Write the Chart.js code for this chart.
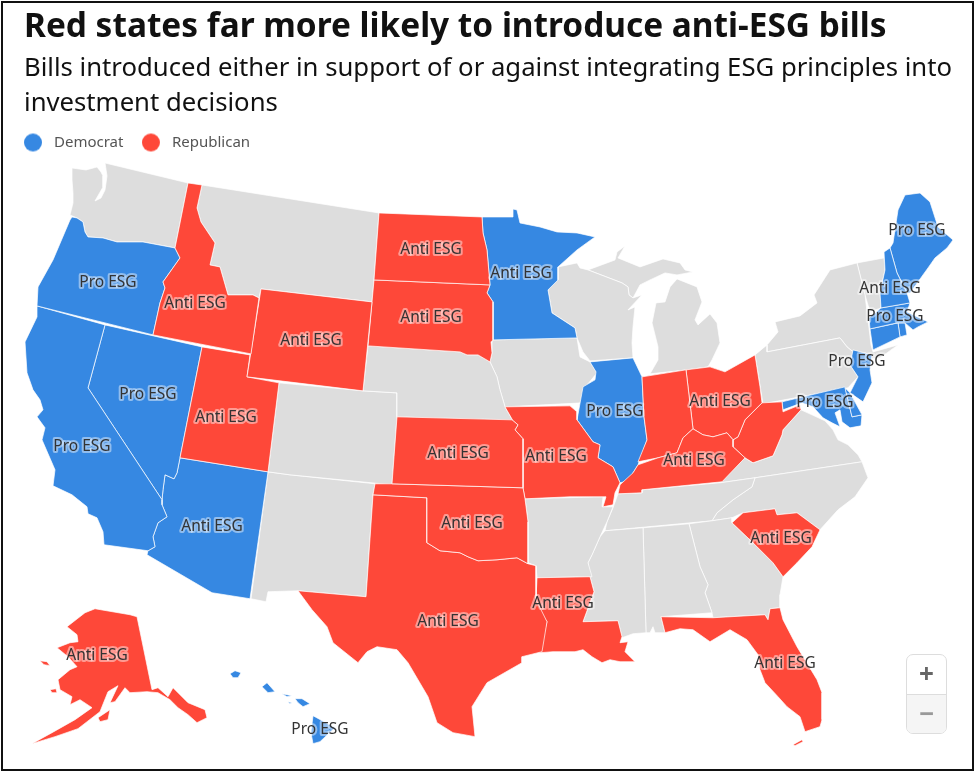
<!DOCTYPE html>
<html><head><meta charset="utf-8">
<style>
html,body{margin:0;padding:0;background:#fff;overflow:hidden}
#wrap{position:relative;width:975px;height:772px}
canvas{display:block}
#frame{position:absolute;left:1px;top:1px;width:969px;height:766px;border:2px solid #111;pointer-events:none}
#zoom{position:absolute;left:906px;top:654px;width:39px;height:78px;border:1px solid #ddd;border-radius:7px;overflow:hidden;font-family:"Noto Sans",sans-serif;background:#fff}
#zoom div{height:39px;line-height:37px;text-align:center;font-size:26px;font-weight:700;color:#666}
#zoom div+div{border-top:1px solid #ddd;background:#f5f5f5;color:#999;height:38px}
</style></head><body>
<div id="wrap"><canvas id="c" width="975" height="772"></canvas><div id="frame"></div>
<div id="zoom"><div>+</div><div>−</div></div></div>
<script src="https://cdn.jsdelivr.net/npm/chart.js@4"></script>
<script>
const titleText="Red states far more likely to introduce anti-ESG bills";
const subtitleLines=["Bills introduced either in support of or against integrating ESG principles into","investment decisions"];
const legendNames=["Democrat","Republican"];
const BLUE="#3688e2",RED="#fe4839",GRAY="#dddddd";

const WA=[[72,168],[86,170],[97,167],[101,172],[103,176],[103,187],[95,201],[101,198],[105,190],[107,176],[105,163],[188,183],[175,248],[143,242],[117,242],[103,238],[88,237],[85,232],[83,222],[77,218],[70,215],[73,203],[73,193],[72,180]];
const MT=[[202,185],[379,213],[374,280],[372,302],[261,289],[259,298],[253,295],[228,295],[220,267],[210,265],[215,243],[201,222],[197,208]];
const NE=[[368,346],[460,352],[467,355],[478,355],[490,362],[497,377],[500,390],[505,407],[513,421],[397,417],[397,393],[363,391]];
const CO=[[279,383],[363,391],[397,393],[397,417],[392,485],[290,475],[268,472]];
const NM=[[268,472],[290,475],[375,484],[373,495],[366,597],[298,591],[268,592],[266,602],[251,599]];
const IA=[[493,340],[577,338],[580,357],[590,362],[597,373],[583,390],[582,403],[505,407],[500,390],[497,377],[490,362],[492,353],[492,342]];
const WI=[[558,267],[577,263],[580,268],[588,270],[622,283],[628,287],[629,295],[633,298],[642,295],[628,310],[635,307],[633,327],[632,343],[633,358],[590,361],[583,352],[577,338],[575,328],[552,313],[548,290],[558,280]];
const MIU=[[588,270],[615,260],[617,252],[625,246],[618,258],[640,267],[663,259],[680,263],[685,270],[693,272],[677,275],[665,273],[650,280],[640,285],[633,298],[629,295],[628,287],[622,283]];
const MIL=[[677,279],[697,287],[702,302],[695,320],[698,325],[710,314],[717,323],[720,343],[712,360],[708,367],[687,370],[650,374],[658,360],[658,347],[652,323],[656,303],[665,302],[670,287]];
const AR=[[525,499],[603,497],[602,507],[613,507],[607,522],[600,537],[592,555],[588,563],[592,577],[537,578],[536,566],[528,563],[528,522]];
const MS=[[605,531],[643,528],[646,633],[633,634],[622,638],[618,621],[583,622],[594,592],[590,577],[588,563],[592,555],[600,537]];
const AL=[[643,528],[689,524],[700,567],[708,585],[705,593],[712,613],[661,617],[665,633],[655,633],[653,627],[650,633],[646,633]];
const GA=[[689,524],[712,521],[732,518],[732,523],[753,543],[773,563],[783,577],[780,595],[780,608],[770,609],[768,620],[765,615],[713,618],[712,613],[705,593],[708,585],[700,567]];
const TN=[[613,508],[618,494],[642,493],[642,490],[720,483],[755,478],[752,487],[733,500],[717,513],[712,521],[605,531],[607,522]];
const NC=[[755,478],[862,462],[868,478],[855,497],[838,510],[820,530],[797,513],[777,515],[775,509],[743,513],[732,518],[712,521],[717,513],[733,500],[752,487]];
const VA=[[720,483],[745,458],[753,463],[773,456],[782,435],[783,430],[801,410],[812,415],[825,421],[833,430],[838,440],[848,445],[858,455],[862,462],[755,478]];
const PA=[[755,355],[767,345],[767,352],[840,338],[847,347],[853,352],[850,365],[858,377],[848,388],[763,404]];
const NY=[[767,352],[767,345],[778,332],[775,322],[800,316],[817,303],[814,295],[830,270],[857,263],[865,295],[869,328],[871,345],[873,352],[898,345],[880,358],[862,360],[856,354],[847,347],[840,338]];
const VT=[[857,263],[884,258],[885,270],[880,293],[881,308],[870,312],[865,295]];

const OR=[[72,217],[77,218],[83,222],[85,232],[88,237],[103,238],[117,242],[143,242],[175,248],[180,258],[163,282],[165,288],[160,303],[153,335],[37,306],[38,287],[53,260],[70,220]];
const CA=[[37,306],[105,325],[88,388],[162,500],[162,505],[167,517],[158,523],[153,537],[155,547],[148,551],[104,545],[103,532],[97,518],[88,514],[87,507],[72,495],[53,486],[55,470],[42,440],[45,428],[37,417],[43,410],[40,400],[33,390],[27,373],[25,342],[37,317]];
const NV=[[105,325],[202,347],[180,458],[177,473],[174,479],[165,475],[163,490],[162,500],[88,388]];
const AZ=[[180,458],[268,472],[250,599],[212,593],[147,555],[148,551],[155,547],[153,537],[158,523],[167,517],[162,505],[162,500],[163,490],[165,475],[174,479],[177,473]];
const MN=[[482,217],[513,217],[513,209],[517,210],[520,223],[540,227],[557,232],[577,233],[595,237],[577,250],[558,267],[558,280],[548,290],[552,313],[575,328],[577,338],[493,340],[493,302],[487,293],[490,285],[487,250],[483,233]];
const IL=[[590,362],[633,358],[642,377],[644,417],[647,440],[638,465],[633,473],[632,480],[620,483],[613,467],[598,458],[600,445],[593,442],[577,420],[583,387],[595,380],[596,372]];
const NH=[[884,252],[890,248],[897,273],[907,293],[910,303],[881,308],[880,293],[885,270]];
const ME=[[890,248],[893,243],[898,210],[905,195],[920,193],[930,202],[938,227],[953,240],[947,248],[935,258],[928,268],[910,293],[907,293],[897,273]];
const MA=[[869,318],[881,308],[910,303],[907,312],[928,322],[918,327],[913,330],[905,323],[897,323],[870,329]];
const CT=[[870,329],[898,323],[900,337],[873,350]];
const RI=[[898,323],[905,323],[907,335],[900,337]];
const NJ=[[853,350],[872,355],[870,370],[872,383],[863,402],[850,393],[858,377],[850,365]];
const DE=[[845,388],[850,393],[862,415],[852,417]];
const MD=[[782,402],[845,387],[852,417],[862,415],[861,426],[850,428],[842,422],[840,410],[835,413],[840,427],[832,423],[823,418],[813,407],[802,403],[783,410]];
const HI1=[[230,674],[235,671],[241,673],[238,678],[233,678]];
const HI2=[[262,687],[267,683],[275,692],[268,693]];
const HI3=[[282,694],[292,696],[287,697]];
const HI4=[[288,702],[292,703],[290,704]];
const HI5=[[295,699],[302,699],[310,704],[303,707],[298,703]];
const HI6=[[313,716],[335,728],[320,742],[313,744],[311,733]];

const ID=[[188,183],[202,185],[197,208],[201,222],[215,243],[210,265],[220,267],[228,295],[253,295],[259,298],[251,354],[153,335],[160,303],[165,288],[163,282],[180,258],[175,248]];
const WY=[[261,289],[372,302],[363,391],[247,377]];
const UT=[[202,347],[250,355],[247,377],[279,383],[268,472],[180,458]];
const ND=[[379,213],[482,217],[483,233],[487,250],[490,285],[374,280]];
const SD=[[374,280],[490,285],[487,293],[493,302],[493,340],[491,342],[492,353],[490,362],[478,355],[467,355],[460,352],[368,346],[372,302]];
const KS=[[397,417],[512,420],[518,425],[515,430],[523,439],[523,488],[392,484]];
const OK=[[375,484],[392,484],[523,488],[525,499],[528,522],[528,564],[517,558],[497,560],[478,561],[468,557],[460,553],[440,551],[427,543],[427,498],[373,495]];
const TX=[[373,495],[427,498],[427,543],[440,551],[460,553],[468,557],[478,561],[497,560],[517,558],[528,564],[536,566],[536,600],[547,622],[542,652],[522,657],[522,663],[487,683],[472,707],[475,737],[453,733],[437,723],[428,697],[408,663],[397,650],[377,647],[367,652],[358,663],[333,643],[327,627],[312,610],[298,591],[366,597]];
const MO=[[505,407],[570,406],[577,412],[577,420],[593,442],[600,445],[598,458],[613,467],[620,483],[615,493],[613,505],[603,507],[606,497],[570,497],[525,499],[523,488],[523,439],[515,430],[518,425],[513,421]];
const LA=[[537,578],[590,577],[594,592],[583,622],[618,621],[622,637],[620,643],[628,642],[625,652],[635,662],[620,662],[610,660],[602,663],[592,657],[583,650],[575,652],[553,652],[540,653],[543,638],[547,622],[537,608],[536,600]];
const SC=[[732,523],[743,513],[775,509],[777,515],[797,513],[820,530],[812,547],[797,563],[783,577],[773,563],[753,543]];
const FL=[[661,617],[713,618],[765,615],[768,620],[770,609],[780,608],[783,620],[797,647],[817,680],[822,693],[822,720],[820,727],[805,732],[800,717],[787,707],[778,697],[765,683],[760,670],[758,655],[747,640],[730,630],[710,642],[693,630],[680,629],[665,633]];
const FLK=[[793,745],[802,740],[803,742],[795,746]];
const KY=[[620,485],[633,473],[638,465],[658,458],[677,453],[683,438],[693,429],[703,435],[713,437],[727,433],[733,440],[733,447],[745,458],[722,482],[642,490],[642,493],[618,494]];
const IN=[[642,377],[686,370],[693,429],[683,438],[677,453],[658,458],[638,462],[647,440],[644,417]];
const OH=[[686,370],[710,367],[725,372],[755,355],[760,387],[762,403],[745,420],[738,437],[733,440],[727,433],[713,437],[703,435],[693,429]];
const WV=[[733,440],[738,437],[745,420],[762,403],[782,402],[783,412],[800,405],[801,410],[783,430],[782,435],[773,456],[753,463],[745,458],[733,447]];
const AK=[[95,609],[130,615],[137,617],[152,690],[158,688],[168,697],[173,688],[188,703],[205,710],[207,718],[197,723],[188,715],[178,708],[170,700],[158,693],[147,692],[130,693],[125,688],[115,702],[110,703],[118,686],[108,692],[100,712],[78,729],[55,737],[32,744],[52,733],[75,720],[92,708],[80,700],[70,705],[72,697],[60,690],[58,680],[70,670],[77,667],[68,657],[57,648],[70,643],[78,642],[77,635],[67,627],[85,613]];
const AK2=[[40,661],[47,662],[50,666],[44,665]];
const AK3=[[50,690],[56,689],[57,693],[52,693]];
const AK4=[[98,718],[110,710],[108,720],[100,722]];

const neutralStates=[WA,MT,NE,CO,NM,IA,WI,MIU,MIL,AR,MS,AL,GA,TN,NC,VA,PA,NY,VT];
const democratStates=[OR,CA,NV,AZ,MN,IL,NH,ME,MA,CT,RI,NJ,DE,MD,HI1,HI2,HI3,HI4,HI5,HI6];
const republicanStates=[ID,WY,UT,ND,SD,KS,OK,TX,MO,LA,SC,FL,FLK,KY,IN,OH,WV,AK,AK2,AK3,AK4];

const labelText=["Pro ESG","Anti ESG","Anti ESG","Anti ESG","Anti ESG","Anti ESG","Pro ESG","Anti ESG","Pro ESG","Pro ESG","Pro ESG","Pro ESG","Anti ESG","Pro ESG","Anti ESG","Anti ESG","Anti ESG","Pro ESG","Anti ESG","Anti ESG","Anti ESG","Anti ESG","Anti ESG","Anti ESG","Anti ESG","Anti ESG","Pro ESG"];
const labelX=[108,195,311,431,431,521,917,890,895,857,825,148,226,82,212,458,556,615,720,694,472,448,563,781,785,97,320];
const labelY=[281,302,339,248,316,272,229,287,315,360,401,393,416,445,525,452,455,410,400,459,522,620,602,537,662,654,728];

function ring(poly,color){
  const pts=poly.concat([poly[0]]).map(p=>({x:p[0],y:p[1]}));
  return {data:pts,showLine:true,tension:0,fill:'shape',backgroundColor:color,borderColor:'#ffffff',borderWidth:0.7,pointRadius:0,pointHoverRadius:0,clip:false};
}
const datasets=[
  ...republicanStates.map(p=>ring(p,RED)),
  ...democratStates.map(p=>ring(p,BLUE)),
  ...neutralStates.map(p=>ring(p,GRAY))
];
function dot(color){
  const c=document.createElement('canvas');c.width=30;c.height=20;
  const g=c.getContext('2d');g.fillStyle=color;g.beginPath();g.arc(9,10,9,0,Math.PI*2);g.fill();return c;
}
const FONT='"Noto Sans", sans-serif';
const legendShift={id:'legendShift',
  beforeLayout(ch){
    const l=ch.legend;
    if(!l.fitWrapped){const f=l.fit;l.fit=function(){f.call(this);this.height=20;};l.fitWrapped=true;}
  },
  afterLayout(ch){const l=ch.legend;l.left=5.5;l.right=975;l.top=109;l.bottom=165;}
};
const stateLabels={id:'stateLabels',
  afterDatasetsDraw(ch){
    const g=ch.ctx,xs=ch.scales.x,ys=ch.scales.y;
    g.save();g.font='15.5px '+FONT;g.textAlign='center';g.textBaseline='middle';g.lineJoin='round';
    labelText.forEach((t,i)=>{
      const x=xs.getPixelForValue(labelX[i]),y=ys.getPixelForValue(labelY[i])+2;
      g.lineWidth=4;g.strokeStyle='rgba(255,255,255,0.45)';g.strokeText(t,x,y);
      g.fillStyle='#333333';g.fillText(t,x,y);
    });
    g.restore();
  }
};
const chart=new Chart(document.getElementById('c'),{
  type:'scatter',
  data:{datasets},
  plugins:[legendShift,stateLabels],
  options:{
    responsive:false,animation:false,
    layout:{padding:{left:24,right:15,top:0,bottom:0}},
    scales:{
      x:{type:'linear',display:false,min:24,max:960},
      y:{type:'linear',display:false,reverse:true,min:140,max:772}
    },
    plugins:{
      tooltip:{enabled:false},
      title:{display:true,text:titleText,align:'start',color:'#111',font:{family:FONT,size:33.4,weight:'700',lineHeight:1.2},padding:{top:7,bottom:4}},
      subtitle:{display:true,text:subtitleLines,align:'start',color:'#111',font:{family:FONT,size:25.7,weight:'400',lineHeight:1.36},padding:{top:0,bottom:0}},
      legend:{display:true,position:'top',align:'start',
        labels:{padding:26,color:'#555',font:{family:FONT,size:15},usePointStyle:true,
          generateLabels(){return [
            {text:legendNames[0],pointStyle:dot(BLUE),fillStyle:BLUE,strokeStyle:BLUE,lineWidth:0,hidden:false,fontColor:'#555'},
            {text:legendNames[1],pointStyle:dot(RED),fillStyle:RED,strokeStyle:RED,lineWidth:0,hidden:false,fontColor:'#555'}];}
        }}
    }
  }
});
chart.options.scales.y.min=chart.chartArea.top;
chart.update();
</script></body></html>
